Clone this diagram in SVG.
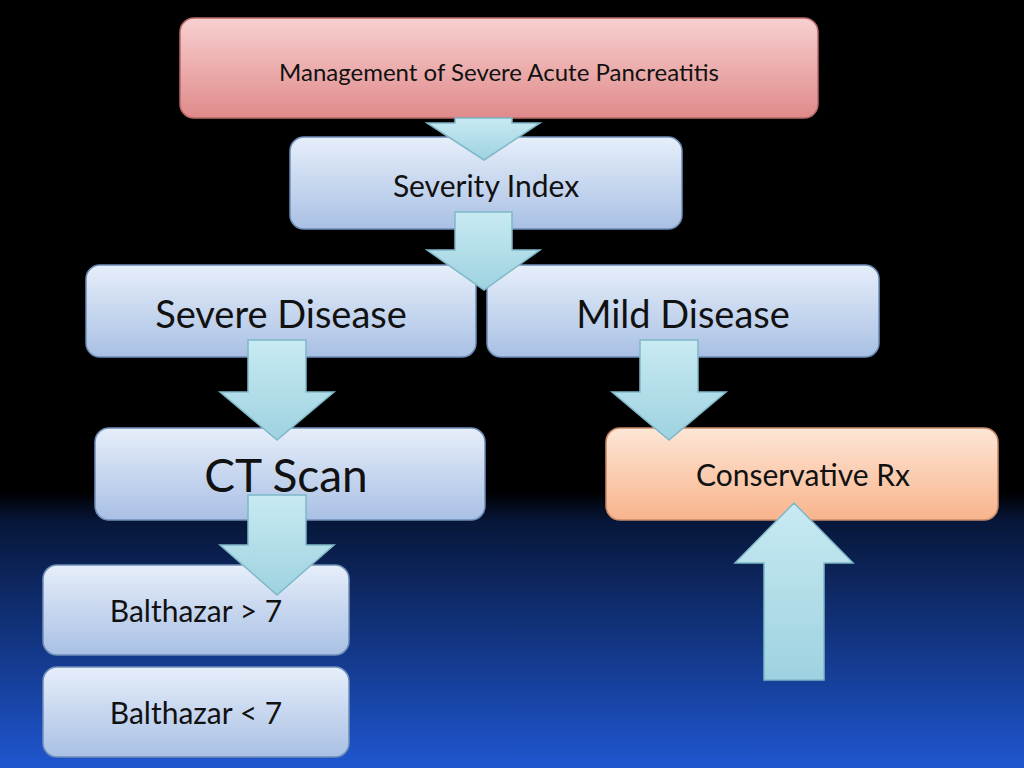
<svg xmlns="http://www.w3.org/2000/svg" width="1024" height="768" viewBox="0 0 1024 768">
<style>
.t{font-family:"Lato","Noto Sans",sans-serif;fill:#111;text-anchor:middle;dominant-baseline:central}
.b{fill:url(#gb);stroke:#6f8fb8;stroke-width:1.5}
.a{fill:url(#ga);stroke:#7fb8c8;stroke-width:1.5}
</style>
<defs>
<linearGradient id="bg" x1="0" y1="0" x2="0" y2="1"><stop offset="0" stop-color="#000"/><stop offset="0.64" stop-color="#000"/><stop offset="0.68" stop-color="#07173a"/><stop offset="1" stop-color="#1f56d0"/></linearGradient>
<linearGradient id="gb" x1="0" y1="0" x2="0" y2="1"><stop offset="0" stop-color="#e6eefa"/><stop offset="1" stop-color="#a9c0e4"/></linearGradient>
<linearGradient id="gp" x1="0" y1="0" x2="0" y2="1"><stop offset="0" stop-color="#f8d0d0"/><stop offset="1" stop-color="#e08a8a"/></linearGradient>
<linearGradient id="go" x1="0" y1="0" x2="0" y2="1"><stop offset="0" stop-color="#fde6d6"/><stop offset="1" stop-color="#f8b48c"/></linearGradient>
<linearGradient id="ga" x1="0" y1="0" x2="0" y2="1"><stop offset="0" stop-color="#c8eaf2"/><stop offset="1" stop-color="#9ed2e0"/></linearGradient>
</defs>
<rect width="1024" height="768" fill="url(#bg)"/>
<g id="n1"><rect x="180" y="18" width="638" height="100" rx="14" fill="url(#gp)" stroke="#b86a6a" stroke-width="1.5"/><text class="t" x="499" y="71" font-size="24">Management of  Severe Acute Pancreatitis</text></g>
<g id="n2"><rect class="b" x="290" y="137" width="392" height="92" rx="14"/><text class="t" x="486" y="185" font-size="30">Severity Index</text></g>
<g id="n3"><rect class="b" x="86" y="265" width="390" height="92" rx="14"/><text class="t" x="281" y="313" font-size="38">Severe Disease</text></g>
<g id="n4"><rect class="b" x="487" y="265" width="392" height="92" rx="14"/><text class="t" x="683" y="313" font-size="38">Mild Disease</text></g>
<g id="n5"><rect class="b" x="95" y="428" width="390" height="92" rx="14"/><text class="t" x="286" y="474" font-size="46">CT Scan</text></g>
<g id="n6"><rect x="606" y="428" width="392" height="92" rx="14" fill="url(#go)" stroke="#c88a6a" stroke-width="1.5"/><text class="t" x="803" y="474" font-size="30">Conservative  Rx</text></g>
<g id="n7"><rect class="b" x="43" y="565" width="306" height="90" rx="14"/><text class="t" x="196" y="610" font-size="30">Balthazar &gt; 7</text></g>
<g id="n8"><rect class="b" x="43" y="667" width="306" height="90" rx="14"/><text class="t" x="196" y="712" font-size="30">Balthazar &lt; 7</text></g>
<g id="connectors">
<polygon class="a" points="455,118 512,118 512,123 540,123 484,160 427,123 455,123"/>
<polygon class="a" points="455,212 512,212 512,250 540,250 484,290 427,250 455,250"/>
<polygon class="a" points="248,340 306,340 306,392 334,392 277,440 220,392 248,392"/>
<polygon class="a" points="640,340 698,340 698,392 726,392 669,440 612,392 640,392"/>
<polygon class="a" points="248,495 306,495 306,545 334,545 277,595 220,545 248,545"/>
<polygon class="a" points="794,503 853,563 824,563 824,680 764,680 764,563 735,563"/>
</g>
</svg>
